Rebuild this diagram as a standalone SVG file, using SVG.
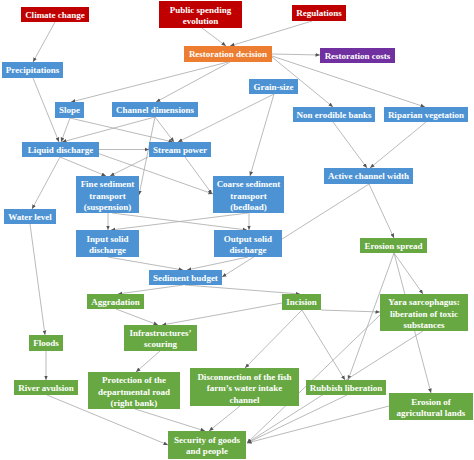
<svg xmlns="http://www.w3.org/2000/svg" width="474" height="460" viewBox="0 0 474 460">
<defs>
<style>
.e{fill:none;stroke:#a8a8a8;stroke-width:0.8;marker-end:url(#ah)}
.r{fill:#c00000}
.o{fill:#ed7d31}
.p{fill:#7030a0}
.b{fill:#4d93d3}
.g{fill:#67a843}
text{font-family:"Liberation Serif","Times New Roman",serif;font-weight:bold;font-size:9px;fill:#fff;text-anchor:middle}
</style>
<marker id="ah" markerWidth="5" markerHeight="5" refX="4.5" refY="2.5" orient="auto" markerUnits="userSpaceOnUse">
<path d="M0,0.6 L4.5,2.5 L0,4.4 Z" fill="#555"/>
</marker>
</defs>
<rect width="474" height="460" fill="#fff"/>
<g id="connectors">
<path class="e" d="M55,22 L33,62"/>
<path class="e" d="M202,28 L226,46"/>
<path class="e" d="M312,21 L230,46"/>
<path class="e" d="M272,54 L320,55"/>
<path class="e" d="M228,62 L71,102"/>
<path class="e" d="M230,62 L156,102"/>
<path class="e" d="M272,57 L333,107"/>
<path class="e" d="M272,56 L425,107"/>
<path class="e" d="M33,78 L59,142"/>
<path class="e" d="M70,118 L61,142"/>
<path class="e" d="M70,118 L173,142"/>
<path class="e" d="M155,117 L62,142"/>
<path class="e" d="M155,117 L174,142"/>
<path class="e" d="M155,117 L139,195"/>
<path class="e" d="M274,94 L178,142"/>
<path class="e" d="M274,94 L250,176"/>
<path class="e" d="M99,149.5 L149,149.5"/>
<path class="e" d="M60,157 L106,176"/>
<path class="e" d="M97,153 L213,194"/>
<path class="e" d="M60,157 L32,209"/>
<path class="e" d="M148,157 L110,176"/>
<path class="e" d="M185,157 L212,194"/>
<path class="e" d="M108,213 L108,230"/>
<path class="e" d="M112,213 L247,230"/>
<path class="e" d="M248,213 L111,230"/>
<path class="e" d="M249,213 L249,230"/>
<path class="e" d="M108,257 L183,270"/>
<path class="e" d="M248,257 L187,270"/>
<path class="e" d="M369,184 L222,277"/>
<path class="e" d="M333,122 L367,168"/>
<path class="e" d="M426,122 L370,168"/>
<path class="e" d="M369,184 L394,238"/>
<path class="e" d="M183,285 L118,294"/>
<path class="e" d="M185,285 L300,294"/>
<path class="e" d="M30,224 L45,335"/>
<path class="e" d="M46,351 L46,380"/>
<path class="e" d="M47,395 L168,445"/>
<path class="e" d="M116,309 L158,325"/>
<path class="e" d="M282,303 L162,325"/>
<path class="e" d="M160,351 L136,372"/>
<path class="e" d="M135,409 L205,431"/>
<path class="e" d="M240,406 L209,431"/>
<path class="e" d="M321,310 L380,312"/>
<path class="e" d="M302,310 L245,368"/>
<path class="e" d="M302,310 L345,380"/>
<path class="e" d="M394,253 L423,294"/>
<path class="e" d="M394,253 L431,393"/>
<path class="e" d="M394,253 L348,380"/>
<path class="e" d="M380,315 L247,443"/>
<path class="e" d="M423,331 L247,443"/>
<path class="e" d="M347,395 L247,443"/>
<path class="e" d="M389,406 L247,443"/>
</g>
<g id="climate"><rect class="r" x="21" y="7" width="68" height="15"/><text x="55" y="17.5">Climate change</text></g>
<g id="public"><rect class="r" x="159" y="1" width="83" height="27"/><text x="200.5" y="12.5">Public spending</text><text x="200.5" y="23.5">evolution</text></g>
<g id="regulations"><rect class="r" x="292" y="5" width="54" height="16"/><text x="319" y="16">Regulations</text></g>
<g id="resto"><rect class="o" x="184" y="46" width="88" height="16"/><text x="228" y="57">Restoration decision</text></g>
<g id="costs"><rect class="p" x="320" y="48" width="75" height="15"/><text x="357.5" y="58.5">Restoration costs</text></g>
<g id="precip"><rect class="b" x="2" y="62" width="61" height="16"/><text x="32.5" y="73">Precipitations</text></g>
<g id="slope"><rect class="b" x="55" y="102" width="29" height="16"/><text x="69.5" y="113">Slope</text></g>
<g id="chandim"><rect class="b" x="112" y="102" width="86" height="15"/><text x="155" y="112.5">Channel dimensions</text></g>
<g id="grain"><rect class="b" x="249" y="79" width="49" height="15"/><text x="273.5" y="89.5">Grain-size</text></g>
<g id="nonerod"><rect class="b" x="293" y="107" width="82" height="15"/><text x="334" y="117.5">Non erodible banks</text></g>
<g id="riparian"><rect class="b" x="384" y="107" width="84" height="15"/><text x="426" y="117.5">Riparian vegetation</text></g>
<g id="liquid"><rect class="b" x="22" y="142" width="77" height="15"/><text x="60.5" y="152.5">Liquid discharge</text></g>
<g id="stream"><rect class="b" x="149" y="142" width="62" height="15"/><text x="180" y="152.5">Stream power</text></g>
<g id="fine"><rect class="b" x="76" y="176" width="63" height="37"/><text x="107.5" y="187">Fine sediment</text><text x="107.5" y="198.5">transport</text><text x="107.5" y="210">(suspension)</text></g>
<g id="coarse"><rect class="b" x="213" y="176" width="71" height="37"/><text x="248.5" y="187">Coarse sediment</text><text x="248.5" y="198.5">transport</text><text x="248.5" y="210">(bedload)</text></g>
<g id="acw"><rect class="b" x="324" y="168" width="89" height="16"/><text x="368.5" y="179">Active channel width</text></g>
<g id="water"><rect class="b" x="4" y="209" width="52" height="15"/><text x="30" y="219.5">Water level</text></g>
<g id="input"><rect class="b" x="76" y="230" width="63" height="27"/><text x="107.5" y="241.5">Input solid</text><text x="107.5" y="252.5">discharge</text></g>
<g id="output"><rect class="b" x="214" y="230" width="68" height="27"/><text x="248" y="241.5">Output solid</text><text x="248" y="252.5">discharge</text></g>
<g id="budget"><rect class="b" x="149" y="270" width="73" height="15"/><text x="185.5" y="280.5">Sediment budget</text></g>
<g id="espread"><rect class="g" x="360" y="238" width="67" height="15"/><text x="393.5" y="248.5">Erosion spread</text></g>
<g id="aggr"><rect class="g" x="87" y="294" width="57" height="15"/><text x="115.5" y="304.5">Aggradation</text></g>
<g id="incision"><rect class="g" x="282" y="294" width="39" height="16"/><text x="301.5" y="305">Incision</text></g>
<g id="yara"><rect class="g" x="380" y="294" width="88" height="37"/><text x="424" y="305">Yara sarcophagus:</text><text x="424" y="316.5">liberation of toxic</text><text x="424" y="328">substances</text></g>
<g id="infra"><rect class="g" x="124" y="325" width="73" height="26"/><text x="160.5" y="335.5">Infrastructures’</text><text x="160.5" y="346.5">scouring</text></g>
<g id="floods"><rect class="g" x="29" y="335" width="34" height="16"/><text x="46" y="346">Floods</text></g>
<g id="avulsion"><rect class="g" x="14" y="380" width="64" height="15"/><text x="46" y="390.5">River avulsion</text></g>
<g id="protection"><rect class="g" x="88" y="372" width="92" height="37"/><text x="134" y="383">Protection of the</text><text x="134" y="394.5">departmental road</text><text x="134" y="406">(right bank)</text></g>
<g id="disconnection"><rect class="g" x="190" y="368" width="109" height="38"/><text x="244.5" y="379.5">Disconnection of the fish</text><text x="244.5" y="391">farm’s water intake</text><text x="244.5" y="402.5">channel</text></g>
<g id="rubbish"><rect class="g" x="306" y="380" width="80" height="15"/><text x="346" y="390.5">Rubbish liberation</text></g>
<g id="erosionag"><rect class="g" x="389" y="393" width="84" height="27"/><text x="431" y="404.5">Erosion of</text><text x="431" y="415.5">agricultural lands</text></g>
<g id="security"><rect class="g" x="168" y="431" width="78" height="28"/><text x="207" y="442.5">Security of goods</text><text x="207" y="453.5">and people</text></g>
</svg>
